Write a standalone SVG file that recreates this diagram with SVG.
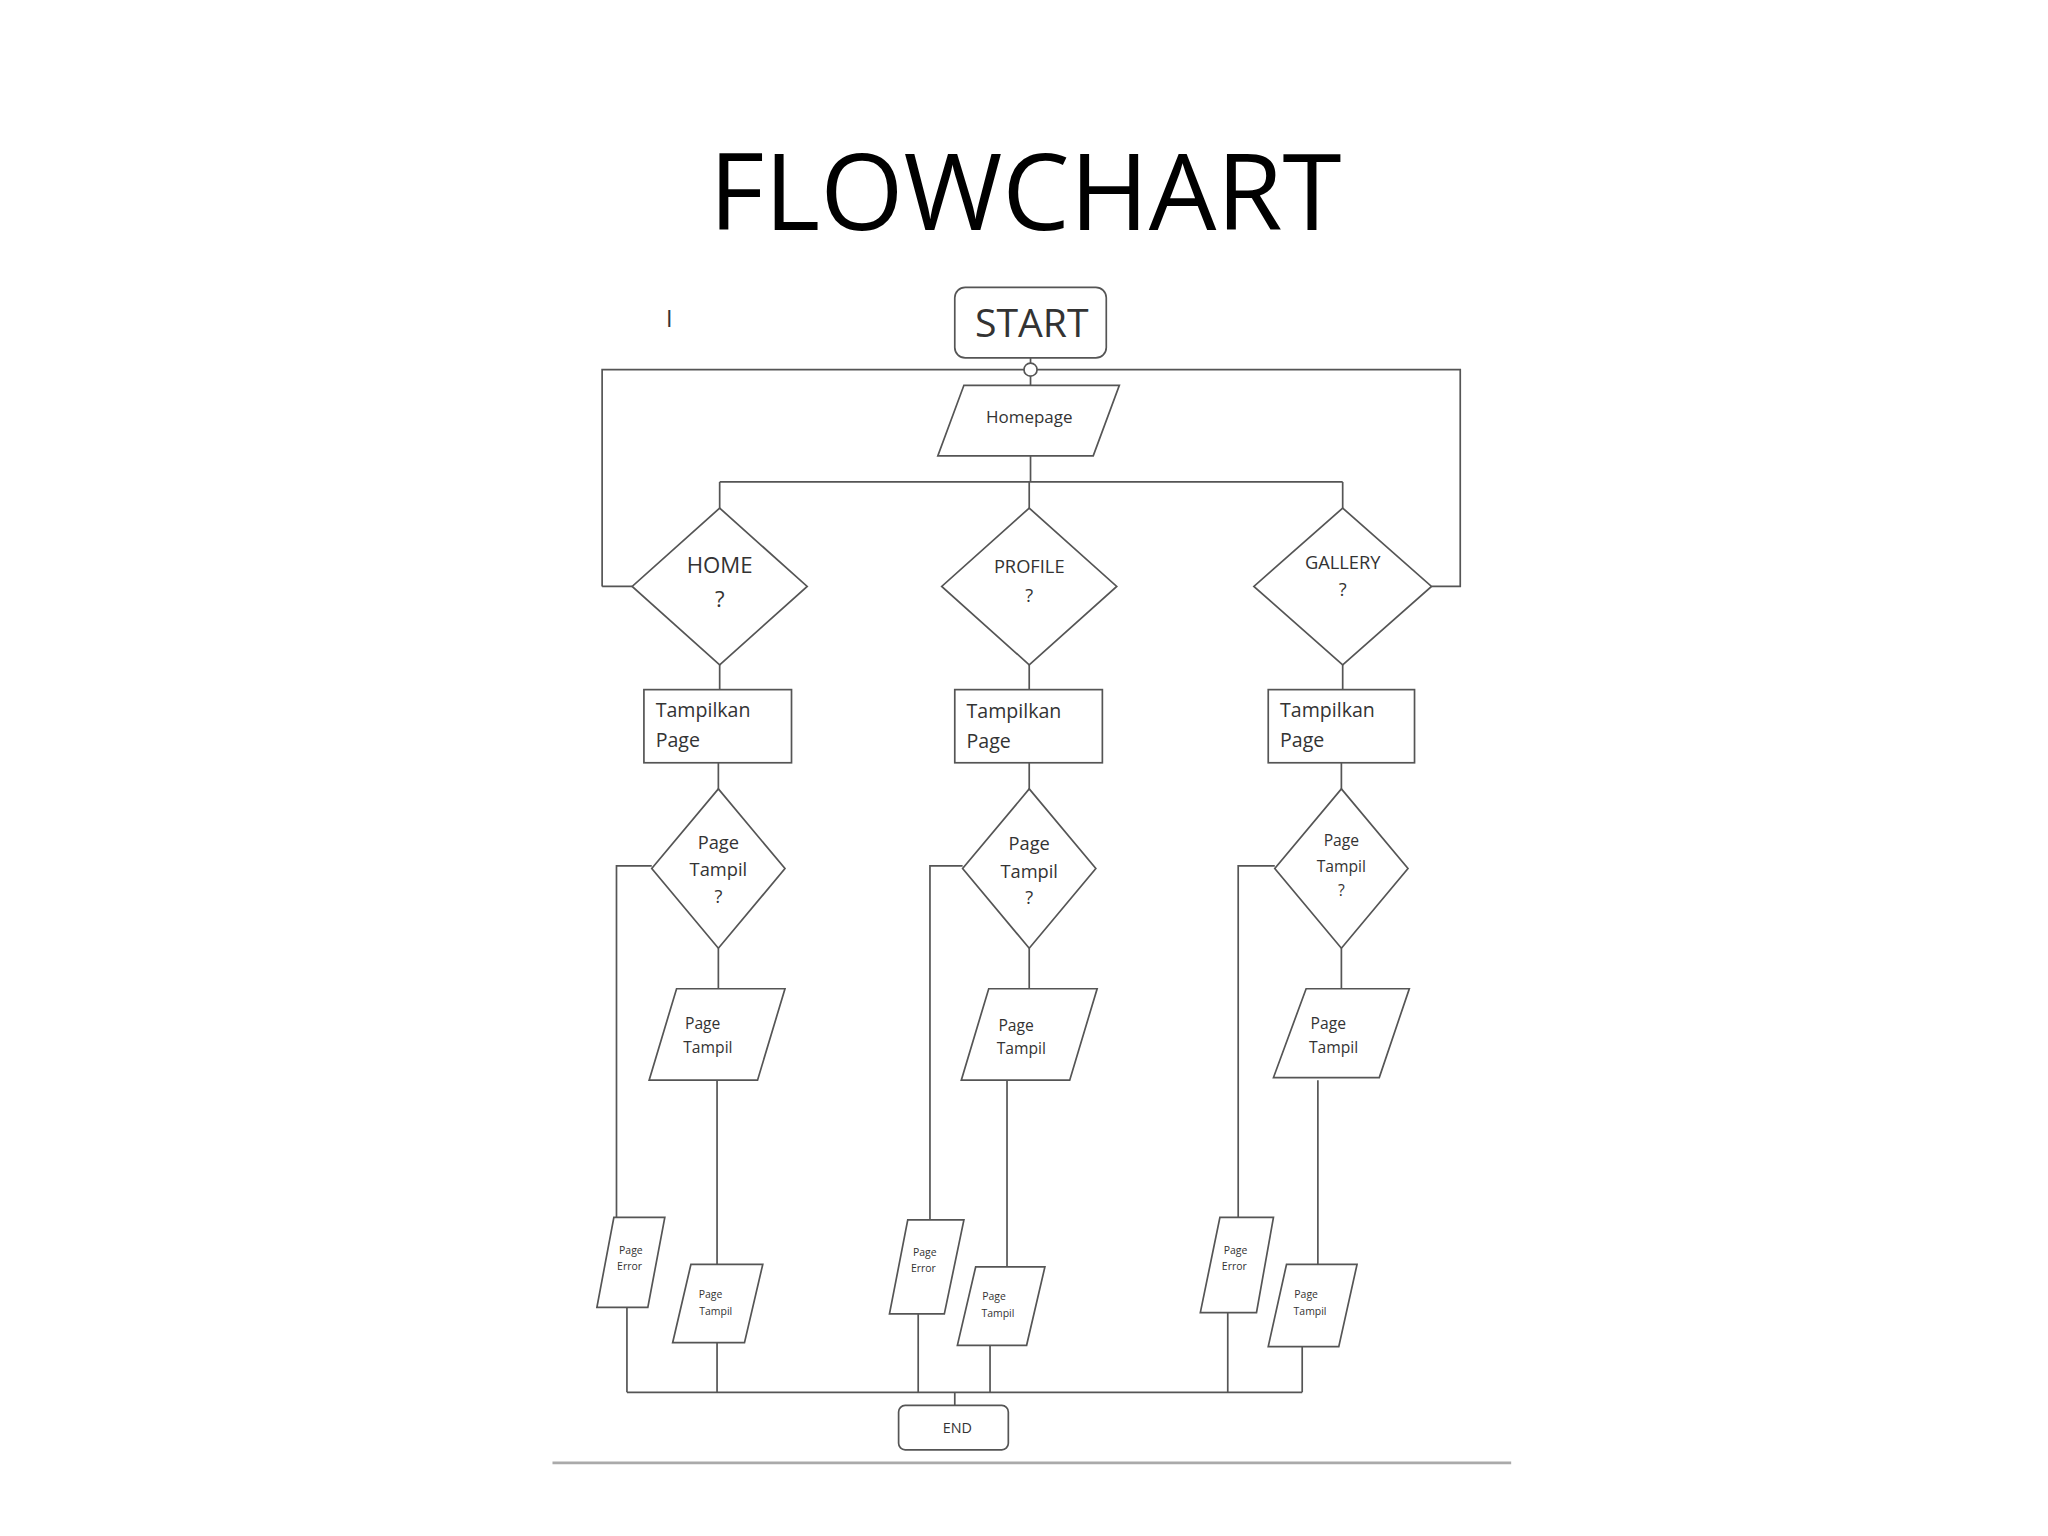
<svg xmlns="http://www.w3.org/2000/svg" width="2048" height="1536" viewBox="0 0 2048 1536">
<style>
.s{fill:#fff;stroke:#555;stroke-width:1.3}
.c{fill:none;stroke:#555;stroke-width:1.3}
text{font-family:"Open Sans","Liberation Sans",sans-serif;fill:#333}
.m{font-size:14px;text-anchor:middle}
.t{font-size:8px;text-anchor:middle}
</style>
<rect width="2048" height="1536" fill="#fff"/>
<g transform="scale(1.30612)">
<text x="785" y="176" style="font-size:82px;fill:#000;text-anchor:middle">FLOWCHART</text>
<text x="510" y="250" style="font-size:18px">I</text>
<g id="connectors" class="c">
<path d="M789 274V295M461 449V283H1118V449H1096M461 449H484"/>
<path d="M789 349V369M551 369H1028M551 369V389M788 369V389M1028 369V389"/>
<path d="M551 509V528M788 509V528M1028 509V528M550 584V604M788 584V604M1027 584V604"/>
<path d="M499 663H472V932M737 663H712V934M976 663H948V932"/>
<path d="M550 726V757M788 726V757M1027 726V757"/>
<path d="M549 827V968M771 827V970M1009 827V968"/>
<path d="M480 1001V1066M549 1028V1066M703 1006V1066M758 1030V1066M940 1005V1066M997 1031V1066M480 1066H997M731 1066V1076"/>
<circle cx="789" cy="283" r="5" fill="#fff"/>
</g>
<g id="start"><rect class="s" x="731" y="220" width="116" height="54" rx="8"/><text x="790" y="258" style="font-size:30px;text-anchor:middle">START</text></g>
<g id="homepage"><polygon class="s" points="738,295 857,295 837,349 718,349"/><text class="m" x="788" y="324" style="font-size:13px">Homepage</text></g>
<g id="d-home"><polygon class="s" points="551,389 618,449 551,509 484,449"/><text class="m" x="551" y="439" style="font-size:17px">HOME</text><text class="m" x="551" y="465" style="font-size:17px">?</text></g>
<g id="d-profile"><polygon class="s" points="788,389 855,449 788,509 721,449"/><text class="m" x="788" y="439">PROFILE</text><text class="m" x="788" y="461">?</text></g>
<g id="d-gallery"><polygon class="s" points="1028,389 1096,449 1028,509 960,449"/><text class="m" x="1028" y="436">GALLERY</text><text class="m" x="1028" y="456">?</text></g>
<g id="r1"><rect class="s" x="493" y="528" width="113" height="56"/><text x="502" y="549" style="font-size:15px">Tampilkan</text><text x="502" y="572" style="font-size:15px">Page</text></g>
<g id="r2"><rect class="s" x="731" y="528" width="113" height="56"/><text x="740" y="550" style="font-size:15px">Tampilkan</text><text x="740" y="573" style="font-size:15px">Page</text></g>
<g id="r3"><rect class="s" x="971" y="528" width="112" height="56"/><text x="980" y="549" style="font-size:15px">Tampilkan</text><text x="980" y="572" style="font-size:15px">Page</text></g>
<g id="d2a"><polygon class="s" points="550,604 601,665 550,726 499,665"/><text class="m" x="550" y="650">Page</text><text class="m" x="550" y="671">Tampil</text><text class="m" x="550" y="691">?</text></g>
<g id="d2b"><polygon class="s" points="788,604 839,665 788,726 737,665"/><text class="m" x="788" y="651">Page</text><text class="m" x="788" y="672">Tampil</text><text class="m" x="788" y="692">?</text></g>
<g id="d2c"><polygon class="s" points="1027,604 1078,665 1027,726 976,665"/><text class="m" x="1027" y="648" style="font-size:12px">Page</text><text class="m" x="1027" y="668" style="font-size:12px">Tampil</text><text class="m" x="1027" y="686" style="font-size:12px">?</text></g>
<g id="p1"><polygon class="s" points="518,757 601,757 580,827 497,827"/><text class="m" x="538" y="788" style="font-size:12px">Page</text><text class="m" x="542" y="806" style="font-size:12px">Tampil</text></g>
<g id="p2"><polygon class="s" points="757,757 840,757 819,827 736,827"/><text class="m" x="778" y="789" style="font-size:12px">Page</text><text class="m" x="782" y="807" style="font-size:12px">Tampil</text></g>
<g id="p3"><polygon class="s" points="1000,757 1079,757 1056,825 975,825"/><text class="m" x="1017" y="788" style="font-size:12px">Page</text><text class="m" x="1021" y="806" style="font-size:12px">Tampil</text></g>
<g id="e1"><polygon class="s" points="470,932 509,932 496,1001 457,1001"/><text class="t" x="483" y="960">Page</text><text class="t" x="482" y="972">Error</text></g>
<g id="e2"><polygon class="s" points="695,934 738,934 723,1006 681,1006"/><text class="t" x="708" y="962">Page</text><text class="t" x="707" y="974">Error</text></g>
<g id="e3"><polygon class="s" points="934,932 975,932 962,1005 919,1005"/><text class="t" x="946" y="960">Page</text><text class="t" x="945" y="972">Error</text></g>
<g id="t1"><polygon class="s" points="529,968 584,968 570,1028 515,1028"/><text class="t" x="544" y="994">Page</text><text class="t" x="548" y="1007">Tampil</text></g>
<g id="t2"><polygon class="s" points="747,970 800,970 786,1030 733,1030"/><text class="t" x="761" y="995">Page</text><text class="t" x="764" y="1008">Tampil</text></g>
<g id="t3"><polygon class="s" points="985,968 1039,968 1025,1031 971,1031"/><text class="t" x="1000" y="994">Page</text><text class="t" x="1003" y="1007">Tampil</text></g>
<g id="end"><rect class="s" x="688" y="1076" width="84" height="34" rx="5"/><text class="m" x="733" y="1097" style="font-size:11px">END</text></g>
<line x1="423" y1="1120" x2="1157" y2="1120" stroke="#aaa" stroke-width="2"/>
</g>
</svg>
